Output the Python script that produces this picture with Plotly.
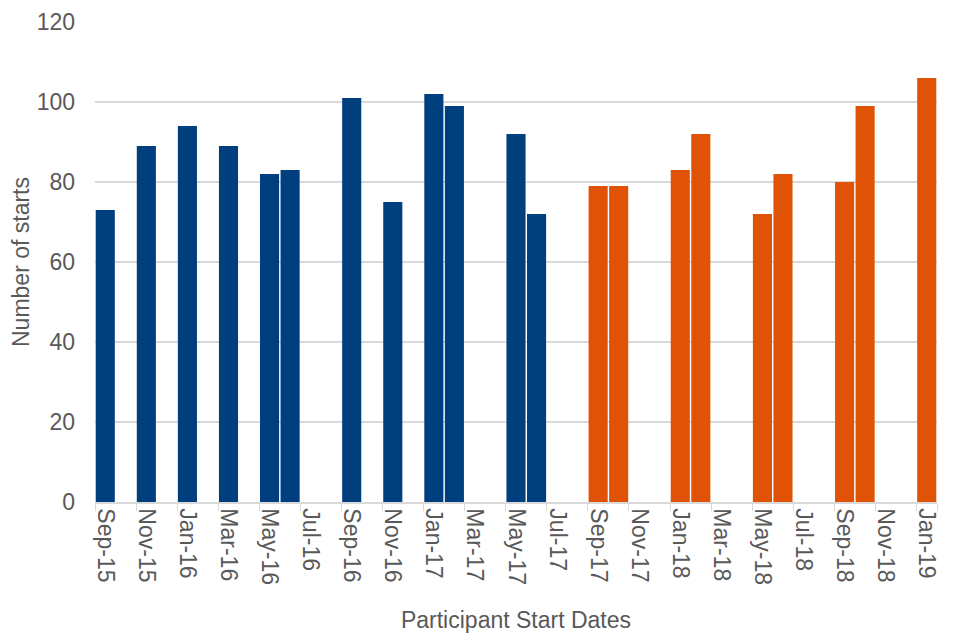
import plotly.graph_objects as go

# Monthly participant starts, Sep-15 to Jan-19 (None = no starts that month)
months = [
    "Sep-15", "Oct-15", "Nov-15", "Dec-15", "Jan-16", "Feb-16", "Mar-16", "Apr-16",
    "May-16", "Jun-16", "Jul-16", "Aug-16", "Sep-16", "Oct-16", "Nov-16", "Dec-16",
    "Jan-17", "Feb-17", "Mar-17", "Apr-17", "May-17", "Jun-17", "Jul-17", "Aug-17",
    "Sep-17", "Oct-17", "Nov-17", "Dec-17", "Jan-18", "Feb-18", "Mar-18", "Apr-18",
    "May-18", "Jun-18", "Jul-18", "Aug-18", "Sep-18", "Oct-18", "Nov-18", "Dec-18",
    "Jan-19",
]
starts = [
    73, None, 89, None, 94, None, 89, None,
    82, 83, None, None, 101, None, 75, None,
    102, 99, None, None, 92, 72, None, None,
    79, 79, None, None, 83, 92, None, None,
    72, 82, None, None, 80, 99, None, None,
    106,
]
# first month of the second phase
split_month = "Jul-17"

tick_labels = months[::2]

split = months.index(split_month)
phase1 = [v if i < split else None for i, v in enumerate(starts)]
phase2 = [v if i >= split else None for i, v in enumerate(starts)]

grey = "#595959"
line_grey = "#d9d9d9"

fig = go.Figure()
fig.add_trace(go.Bar(x=months, y=phase1, marker_color="#003f7d",
                     marker_line_width=0, name="Phase 1"))
fig.add_trace(go.Bar(x=months, y=phase2, marker_color="#e05206",
                     marker_line_width=0, name="Phase 2"))

# page body has an 8px margin, so the figure is a bit smaller than the window
fig.update_layout(
    width=952, height=632,
    margin=dict(l=87, r=23, t=14, b=138),
    plot_bgcolor="white", paper_bgcolor="white",
    barmode="overlay", bargap=0.07,
    showlegend=False,
    font=dict(family="Liberation Sans, Arial, sans-serif", color=grey, size=23),
)
fig.update_xaxes(
    type="category", categoryorder="array", categoryarray=months,
    tickmode="array", tickvals=tick_labels, ticktext=tick_labels,
    tickson="boundaries", ticks="outside", ticklen=7, tickcolor=line_grey,
    tickangle=90, tickfont=dict(size=23, color=grey),
    showline=True, linecolor=line_grey, linewidth=1.5,
    showgrid=False, automargin=False,
    title=dict(text="Participant Start Dates", font=dict(size=23, color=grey), standoff=28),
)
fig.update_yaxes(
    range=[0, 120], dtick=20,
    showgrid=True, gridcolor=line_grey, gridwidth=1.5,
    zeroline=False, showline=False, ticks="", automargin=False,
    tickfont=dict(size=23, color=grey), ticklabelstandoff=19,
    title=dict(text="Number of starts", font=dict(size=23, color=grey), standoff=6),
)

fig.write_html("out.html")
